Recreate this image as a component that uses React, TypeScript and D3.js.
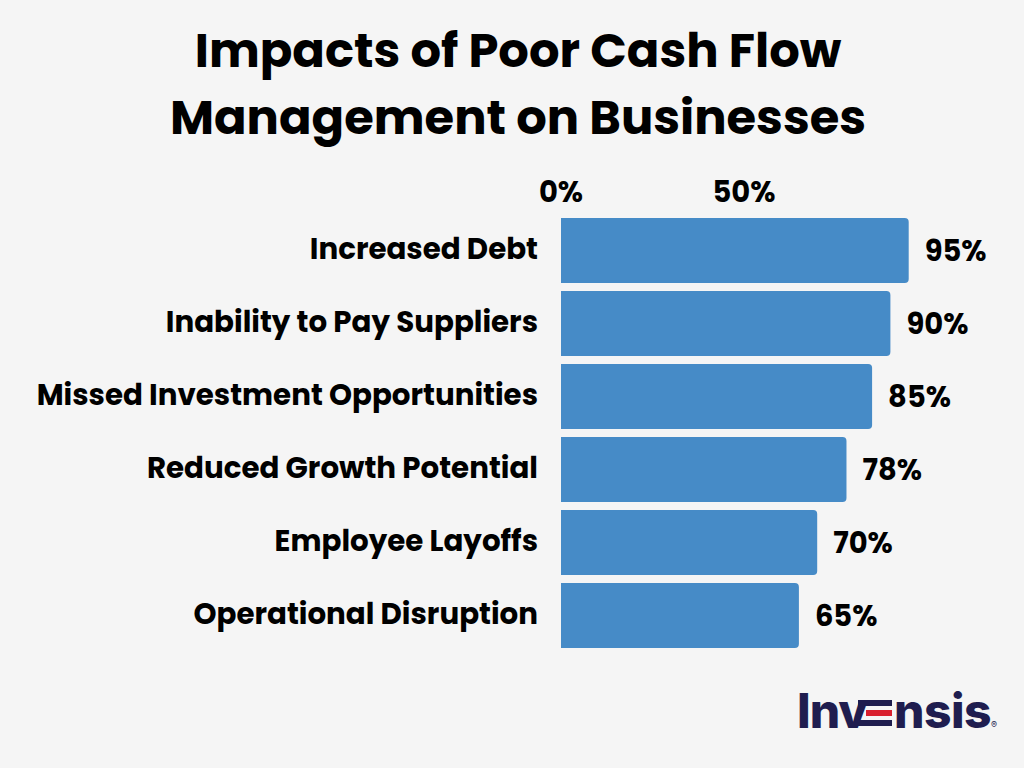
import React from "react";
import * as d3 from "d3";

const categories = [
  "Increased Debt",
  "Inability to Pay Suppliers",
  "Missed Investment Opportunities",
  "Reduced Growth Potential",
  "Employee Layoffs",
  "Operational Disruption",
];
const values = [95, 90, 85, 78, 70, 65];
const tickValues = [0, 50];
const titleLines = ["Impacts of Poor Cash Flow", "Management on Businesses"];

const W = 1024;
const H = 768;
const FONT = "Poppins, Inter, 'Open Sans', sans-serif";
const BAR = "#468bc7";
const BG = "#f5f5f5";

function barPath(x0: number, y: number, w: number, h: number, r: number) {
  const x1 = x0 + w;
  return `M${x0},${y}H${x1 - r}Q${x1},${y} ${x1},${y + r}V${y + h - r}Q${x1},${y + h} ${x1 - r},${y + h}H${x0}Z`;
}

export default function App() {
  const x = d3.scaleLinear().domain([0, 100]).range([561, 927]);
  const y = d3
    .scaleBand<string>()
    .domain(categories)
    .range([218, 648])
    .paddingInner(0.11)
    .paddingOuter(0);
  const bw = y.bandwidth();

  return (
    <svg
      width={W}
      height={H}
      viewBox={`0 0 ${W} ${H}`}
      style={{ position: "absolute", left: 0, top: 0, background: BG }}
      fontFamily={FONT}
    >
      <rect x={0} y={0} width={W} height={H} fill={BG} />
      {titleLines.map((t, i) => (
        <text
          key={t}
          x={518}
          y={67 + i * 67}
          textAnchor="middle"
          fontSize={48}
          fontWeight={700}
          fill="#000"
        >
          {t}
        </text>
      ))}
      {tickValues.map((v) => (
        <text
          key={v}
          x={x(v)}
          y={202}
          textAnchor="middle"
          fontSize={29}
          fontWeight={700}
          fill="#000"
        >
          {`${v}%`}
        </text>
      ))}
      {categories.map((c, i) => {
        const yy = y(c)!;
        return (
          <g key={c}>
            <path d={barPath(x(0), yy, x(values[i]) - x(0), bw, 4)} fill={BAR} />
            <text
              x={538}
              y={yy + bw / 2 - 2}
              dy="0.35em"
              textAnchor="end"
              fontSize={29.3}
              fontWeight={700}
              fill="#000"
            >
              {c}
            </text>
            <text
              x={x(values[i]) + 16}
              y={yy + bw / 2}
              dy="0.35em"
              textAnchor="start"
              fontSize={29}
              fontWeight={700}
              fill="#000"
            >
              {`${values[i]}%`}
            </text>
          </g>
        );
      })}
      <g fill="#1f1d4f" fontFamily="Inter, 'Open Sans', sans-serif" fontWeight={800} fontSize={48}>
        <text x={797} y={728} letterSpacing={-1}>Inv</text>
        <rect x={858} y={700} width={34} height={6} />
        <rect x={866} y={710} width={26} height={6} fill="#d9202e" />
        <rect x={858} y={720} width={34} height={6} />
        <text x={894} y={728} letterSpacing={-0.5}>nsis</text>
        <text x={991} y={728} fontSize={9} fontWeight={400}>®</text>
      </g>
    </svg>
  );
}
